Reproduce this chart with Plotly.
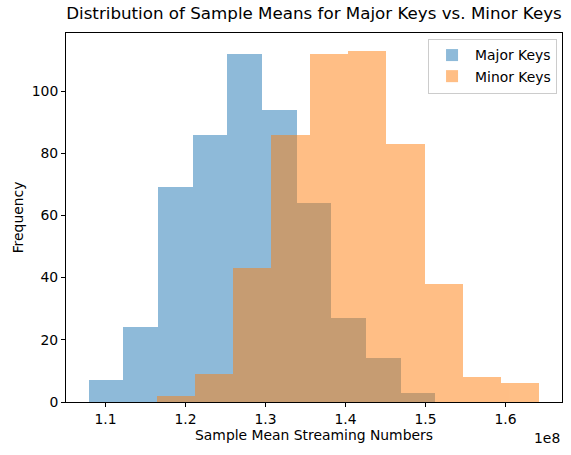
"""
Histogram of sample means (major vs minor keys), rebuilt with plotly.
"""

import numpy as np
import plotly.graph_objects as go

# bin edges (in units of 1e8 streams) and counts
major_edges = np.linspace(1.07875, 1.5125, 11)
major_counts = [7, 24, 69, 86, 112, 94, 64, 27, 14, 3]

minor_edges = np.linspace(1.16375, 1.6425, 11)
minor_counts = [2, 9, 43, 86, 112, 113, 83, 38, 8, 6]

x_ticks = [1.1, 1.2, 1.3, 1.4, 1.5, 1.6]
y_ticks = [0, 20, 40, 60, 80, 100]

SCALE = 1e8
FONT = "DejaVu Sans"
FS = 13.9  # matplotlib 10pt at 100 dpi


def _bars(edges, counts, name, color):
    edges = np.asarray(edges) * SCALE
    return go.Bar(
        x=edges[:-1],
        y=counts,
        width=np.diff(edges),
        offset=0,
        name=name,
        marker=dict(color=color, line=dict(width=0)),
        opacity=0.5,
    )


fig = go.Figure()
fig.add_trace(_bars(major_edges, major_counts, "Major Keys", "#1f77b4"))
fig.add_trace(_bars(minor_edges, minor_counts, "Minor Keys", "#ff7f0e"))

lo, hi = major_edges[0], minor_edges[-1]
pad = (hi - lo) * 0.05
ymax = max(max(major_counts), max(minor_counts)) * 1.05

axis_common = dict(
    showline=True, linecolor="black", linewidth=1, mirror=True,
    ticks="outside", ticklen=4, tickcolor="black",
    showgrid=False, zeroline=False, automargin=False,
    tickfont=dict(size=FS, color="black", family=FONT),
)

fig.update_layout(
    width=571, height=455,
    margin=dict(l=66, r=9, t=33, b=53),
    paper_bgcolor="white", plot_bgcolor="white",
    barmode="overlay", bargap=0,
    font=dict(family=FONT, color="black", size=FS),
    title=dict(
        text="Distribution of Sample Means for Major Keys vs. Minor Keys",
        xref="paper", x=0.5, xanchor="center",
        yref="container", y=0.972, yanchor="middle",
        font=dict(size=16.7, family=FONT, color="black"),
    ),
    xaxis=dict(
        range=[(lo - pad) * SCALE, (hi + pad) * SCALE],
        tickvals=[t * SCALE for t in x_ticks],
        ticktext=[f"{t:.1f}" for t in x_ticks],
        title=dict(text="Sample Mean Streaming Numbers", standoff=4,
                   font=dict(size=FS, family=FONT)),
        **axis_common,
    ),
    yaxis=dict(
        range=[0, ymax],
        tickvals=y_ticks,
        title=dict(text="Frequency", standoff=4, font=dict(size=FS, family=FONT)),
        **axis_common,
    ),
    legend=dict(
        x=0.99, y=0.985, xanchor="right", yanchor="top",
        bgcolor="rgba(255,255,255,0.8)", bordercolor="#cccccc", borderwidth=1,
        font=dict(size=FS, family=FONT),
        tracegroupgap=0, itemwidth=36,
    ),
    annotations=[
        dict(text="1e8", xref="paper", yref="paper", x=1.0, y=-0.07,
             xanchor="right", yanchor="top", showarrow=False,
             font=dict(size=FS, family=FONT)),
    ],
)

# the page body has a default 8px margin; drop it so the figure sits at 0,0
fig.write_html(
    "out.html",
    config={"displayModeBar": False},
    post_script="document.body.style.margin = '0';",
)
